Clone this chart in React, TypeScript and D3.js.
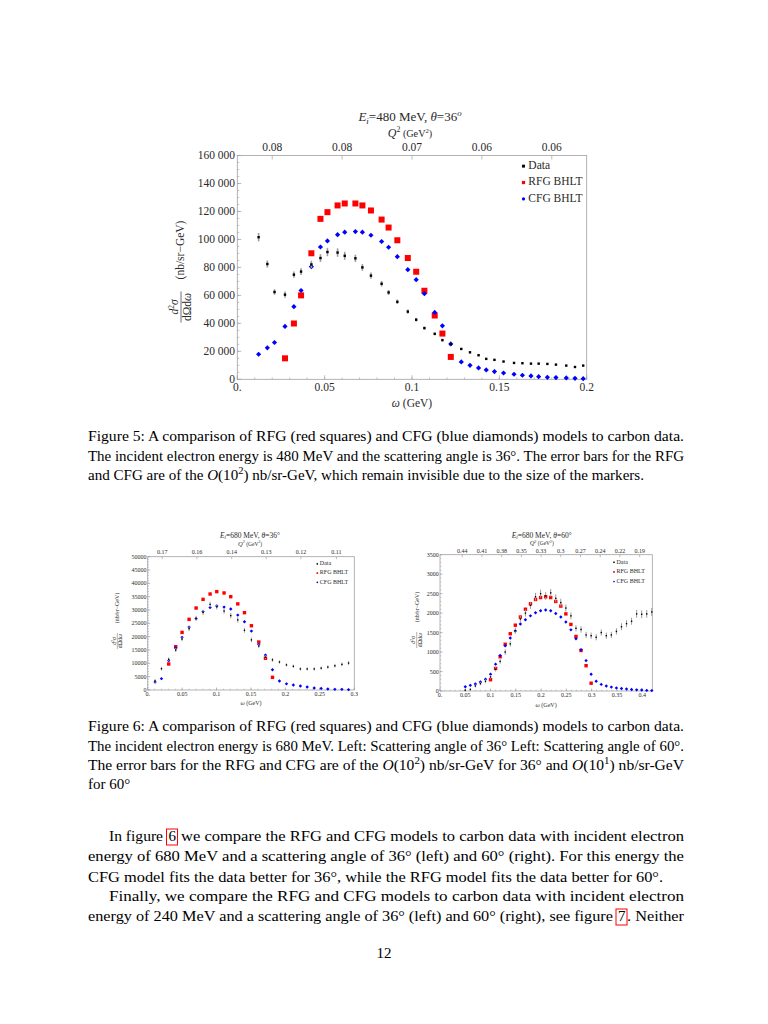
import * as d3 from "d3";

const SERIF = "'Liberation Serif', 'Times New Roman', serif";

// ---- Figure 5: E = 480 MeV, theta = 36 ----
const omega480 = [0.0122, 0.0172, 0.0213, 0.0273, 0.0324, 0.0365, 0.0424, 0.0476, 0.0516, 0.0574, 0.0615, 0.0676, 0.0716, 0.0765, 0.0826, 0.0866, 0.0916, 0.0976, 0.1024, 0.1071, 0.113, 0.1174, 0.1222, 0.1282, 0.1332, 0.1381, 0.1425, 0.1472, 0.1524, 0.1584, 0.1632, 0.1681, 0.1725, 0.1775, 0.1824, 0.1883, 0.1933, 0.198];
const data480 = [101600, 82400, 62400, 60500, 74800, 77000, 82100, 86700, 91000, 90600, 88300, 86500, 80000, 74100, 68300, 62100, 55400, 48400, 42600, 36600, 32500, 28000, 25000, 21700, 19300, 17200, 14600, 13900, 12700, 11700, 11500, 11200, 11200, 11000, 10500, 9800, 8800, 9800];
const err480 = [3000, 2500, 2000, 2200, 2200, 2400, 2600, 2800, 3000, 3000, 2800, 2600, 2400, 2200, 2000, 1800, 1600, 1500, 1300, 1100, 1000, 900, 800, 700, 600, 600, 500, 500, 500, 400, 400, 400, 400, 400, 400, 400, 400, 400];
const rfg480 = [null, null, null, 15000, 39900, 60000, 90100, 114700, 119500, 124300, 125700, 125700, 124300, 120700, 114200, 108500, 99400, 86700, 76900, 63300, 45600, 32700, 16000, null, null, null, null, null, null, null, null, null, null, null, null, null, null, null];
const cfg480 = [17900, 22500, 26300, 37800, 51900, 63500, 80500, 94600, 98900, 103400, 105200, 105600, 105200, 103000, 98500, 94400, 87700, 78400, 71200, 61200, 47800, 38200, 25300, 12400, 10000, 8100, 6700, 5500, 4500, 3600, 2900, 2400, 1900, 1400, 1200, 950, 700, 480];
const xTicks480 = [0, 0.05, 0.1, 0.15, 0.2];
const yTicks480 = [0, 20000, 40000, 60000, 80000, 100000, 120000, 140000, 160000];
const q2Pos480 = [0.02, 0.06, 0.1, 0.14, 0.18];
const q2Labels480 = ["0.08", "0.08", "0.07", "0.06", "0.06"];

// ---- Figure 6 left: E = 680 MeV, theta = 36 ----
const omega36 = [0.0107, 0.02, 0.0305, 0.0407, 0.0499, 0.0601, 0.0703, 0.0804, 0.0906, 0.1003, 0.1109, 0.1206, 0.1308, 0.1405, 0.1506, 0.1613, 0.171, 0.1812, 0.1913, 0.2015, 0.2115, 0.2217, 0.2316, 0.2418, 0.2519, 0.2616, 0.2718, 0.282, 0.2917];
const data36 = [3400, 8000, 11500, 15000, 19100, 23000, 26900, 29100, 32100, 31200, 29600, 27900, 26300, 22400, 18800, 16500, 12300, 11300, 10500, 9400, 8900, 7900, 7900, 7900, 8200, 8600, 9100, 9600, 10100];
const err36 = [700, 700, 700, 800, 800, 900, 900, 1000, 1000, 1000, 1000, 1000, 1000, 900, 900, 800, 700, 700, 600, 600, 600, 600, 600, 600, 600, 600, 700, 700, 700];
const rfg36 = [null, null, 9750, 16250, 21600, 26500, 30750, 34000, 36000, 36900, 36400, 35000, 32300, 29000, 24100, 18000, 11900, 4750, null, null, null, null, null, null, null, null, null, null, null];
const cfg36 = [3000, 4250, 11000, 15750, 19750, 23600, 26750, 29400, 30900, 31500, 31100, 30400, 28100, 25600, 22100, 17100, 13100, 7600, 3400, 2300, 1900, 1500, 1100, 750, 600, 400, 250, 250, 130];
const xTicks36 = [0, 0.05, 0.1, 0.15, 0.2, 0.25, 0.3];
const yTicks36 = [0, 5000, 10000, 15000, 20000, 25000, 30000, 35000, 40000, 45000, 50000];
const q2Pos36 = [0.021, 0.0715, 0.122, 0.172, 0.2225, 0.274];
const q2Labels36 = ["0.17", "0.16", "0.14", "0.13", "0.12", "0.11"];

// ---- Figure 6 right: E = 680 MeV, theta = 60 ----
const omega60 = [0.05, 0.06, 0.07, 0.08, 0.09, 0.1, 0.11, 0.119, 0.129, 0.139, 0.149, 0.159, 0.169, 0.179, 0.189, 0.199, 0.209, 0.219, 0.229, 0.239, 0.249, 0.259, 0.269, 0.279, 0.289, 0.299, 0.309, 0.319, 0.329, 0.339, 0.349, 0.359, 0.369, 0.379, 0.389, 0.399, 0.409, 0.419];
const data60 = [20, 40, 130, 190, 250, 360, 560, 760, 1000, 1210, 1550, 1850, 2000, 2200, 2420, 2500, 2440, 2520, 2380, 2270, 2130, 1930, 1610, 1580, 1440, 1420, 1380, 1500, 1420, 1440, 1530, 1650, 1730, 1790, 1980, 1970, 1980, 2030];
const err60 = [30, 30, 40, 40, 50, 50, 60, 60, 70, 70, 80, 80, 90, 90, 100, 100, 100, 100, 100, 100, 90, 90, 80, 80, 80, 80, 80, 80, 80, 80, 80, 90, 90, 90, 100, 100, 100, 100];
const rfg60 = [null, null, null, null, null, 290, 580, 880, 1200, 1470, 1690, 1900, 2100, 2240, 2350, 2400, 2420, 2400, 2300, 2180, 1980, 1710, 1400, 1040, 650, 200, null, null, null, null, null, null, null, null, null, null, null, null];
const cfg60 = [110, 145, 180, 230, 300, 430, 690, 910, 1160, 1360, 1540, 1720, 1830, 1930, 2010, 2060, 2080, 2060, 1990, 1900, 1770, 1570, 1340, 1060, 780, 430, 250, 170, 130, 100, 80, 65, 50, 40, 30, 25, 15, 10];
const xTicks60 = [0, 0.05, 0.1, 0.15, 0.2, 0.25, 0.3, 0.35, 0.4];
const yTicks60 = [0, 500, 1000, 1500, 2000, 2500, 3000, 3500];
const q2Pos60 = [0.044, 0.083, 0.122, 0.161, 0.2, 0.239, 0.278, 0.317, 0.356, 0.395];
const q2Labels60 = ["0.44", "0.41", "0.38", "0.35", "0.33", "0.3", "0.27", "0.24", "0.22", "0.19"];

const legendNames = ["Data", "RFG BHLT", "CFG BHLT"];

type Num = number | null;

interface Spec {
  box: [number, number, number, number];
  xMax: number;
  yMax: number;
  xTicks: number[];
  xMinorStep: number;
  yTicks: number[];
  yMinorStep: number;
  yFmt: (v: number) => string;
  q2Pos: number[];
  q2Labels: string[];
  omega: number[];
  data: number[];
  err: number[];
  rfg: Num[];
  cfg: Num[];
  energy: string;
  angle: string;
  supO: boolean;
  fs: number;
  titleFs: number;
  q2Fs: number;
  titleX: number;
  titleY: number;
  q2Y: number;
  topLabY: number;
  xLabY: number;
  omegaY: number;
  legX: number;
  legY: number;
  legDy: number;
  yLabX: number;
  fracCy: number;
  parenCy: number;
  sq: number;
  dia: number;
  dot: number;
  barW: number;
  major: number;
  minor: number;
}

const fmtSpaced = (v: number) => (v === 0 ? "0" : d3.format(",")(v).replace(/,/g, " "));
const fmtPlain = (v: number) => String(v);
const fmtX = (v: number) => (v === 0 ? "0." : String(+v.toFixed(2)));

function Panel({ s }: { s: Spec }) {
  const [l, t, r, b] = s.box;
  const x = d3.scaleLinear().domain([0, s.xMax]).range([l, r]);
  const y = d3.scaleLinear().domain([0, s.yMax]).range([b, t]);
  const xMinor = d3.range(0, s.xMax + 1e-9, s.xMinorStep);
  const yMinor = d3.range(0, s.yMax + 1e-9, s.yMinorStep);
  const frame = "#a0a0a0";
  const ink = "#2a2a2a";
  const sub = s.titleFs * 0.68;
  const qs = s.q2Fs * 0.85;
  return (
    <g fontFamily={SERIF} fill={ink}>
      <rect x={l} y={t} width={r - l} height={b - t} fill="none" stroke={frame} strokeWidth={0.8} />
      {xMinor.map((v, i) => (
        <line key={"xm" + i} x1={x(v)} x2={x(v)} y1={b} y2={b - s.minor} stroke={frame} strokeWidth={0.6} />
      ))}
      {s.xTicks.map((v, i) => (
        <line key={"xM" + i} x1={x(v)} x2={x(v)} y1={b} y2={b - s.major} stroke={frame} strokeWidth={0.7} />
      ))}
      {yMinor.map((v, i) => (
        <line key={"ym" + i} x1={l} x2={l + s.minor} y1={y(v)} y2={y(v)} stroke={frame} strokeWidth={0.6} />
      ))}
      {s.yTicks.map((v, i) => (
        <line key={"yM" + i} x1={l} x2={l + s.major} y1={y(v)} y2={y(v)} stroke={frame} strokeWidth={0.7} />
      ))}
      {s.q2Pos.map((v, i) => (
        <line key={"q" + i} x1={x(v)} x2={x(v)} y1={t} y2={t + s.major} stroke={frame} strokeWidth={0.7} />
      ))}
      {s.xTicks.map((v, i) => (
        <text key={"xl" + i} x={x(v)} y={s.xLabY} fontSize={s.fs} textAnchor="middle">
          {fmtX(v)}
        </text>
      ))}
      {s.yTicks.map((v, i) => (
        <text key={"yl" + i} x={l - s.fs * 0.2} y={y(v) + s.fs * 0.33} fontSize={s.fs} textAnchor="end">
          {s.yFmt(v)}
        </text>
      ))}
      {s.q2Pos.map((v, i) => (
        <text key={"ql" + i} x={x(v)} y={s.topLabY} fontSize={s.fs} textAnchor="middle">
          {s.q2Labels[i]}
        </text>
      ))}
      {/* title */}
      <text x={s.titleX} y={s.titleY} fontSize={s.titleFs} textAnchor="middle">
        <tspan fontStyle="italic">E</tspan>
        <tspan fontStyle="italic" fontSize={sub} dy={s.titleFs * 0.22}>i</tspan>
        <tspan dy={-s.titleFs * 0.22}>{"=" + s.energy + " MeV, "}</tspan>
        <tspan fontStyle="italic">θ</tspan>
        <tspan>{"=" + s.angle}</tspan>
        {s.supO ? (
          <tspan fontStyle="italic" fontSize={sub} dy={-s.titleFs * 0.38}>o</tspan>
        ) : (
          <tspan>°</tspan>
        )}
      </text>
      <text x={s.titleX} y={s.q2Y} fontSize={s.q2Fs} textAnchor="middle">
        <tspan fontStyle="italic">Q</tspan>
        <tspan fontSize={s.q2Fs * 0.65} dy={-s.q2Fs * 0.38}>2</tspan>
        <tspan fontSize={qs} dy={s.q2Fs * 0.38}>{" (GeV"}</tspan>
        <tspan fontSize={qs * 0.65} dy={-qs * 0.38}>2</tspan>
        <tspan fontSize={qs} dy={qs * 0.38}>)</tspan>
      </text>
      {/* x label */}
      <text x={(l + r) / 2} y={s.omegaY} fontSize={s.fs} textAnchor="middle">
        <tspan fontStyle="italic">ω</tspan>
        <tspan>{" (GeV)"}</tspan>
      </text>
      {/* y label */}
      <g transform={`translate(${s.yLabX},${s.fracCy}) rotate(-90)`} fontSize={s.fs}>
        <text x={0} y={-s.fs * 0.22} textAnchor="middle">
          <tspan fontStyle="italic">d</tspan>
          <tspan fontSize={s.fs * 0.65} dy={-s.fs * 0.38}>2</tspan>
          <tspan fontStyle="italic" dy={s.fs * 0.38}>σ</tspan>
        </text>
        <line x1={-s.fs * 1.35} x2={s.fs * 1.35} y1={0} y2={0} stroke={ink} strokeWidth={s.fs * 0.06} />
        <text x={0} y={s.fs * 0.85} textAnchor="middle">
          <tspan>dΩd</tspan>
          <tspan fontStyle="italic">ω</tspan>
        </text>
      </g>
      <g transform={`translate(${s.yLabX},${s.parenCy}) rotate(-90)`} fontSize={s.fs}>
        <text x={0} y={s.fs * 0.3} textAnchor="middle">
          (nb/sr−GeV)
        </text>
      </g>
      {/* models */}
      {s.rfg.map((v, i) =>
        v === null ? null : (
          <rect
            key={"r" + i}
            x={x(s.omega[i]) - s.sq / 2}
            y={y(v) - s.sq / 2}
            width={s.sq}
            height={s.sq}
            fill="#ff0000"
          />
        )
      )}
      {s.cfg.map((v, i) =>
        v === null ? null : (
          <path
            key={"c" + i}
            d={`M${x(s.omega[i])},${y(v) - s.dia / 2}l${s.dia / 2},${s.dia / 2}l${-s.dia / 2},${s.dia / 2}l${-s.dia / 2},${-s.dia / 2}z`}
            fill="#0000ff"
          />
        )
      )}
      {/* data with error bars */}
      {s.data.map((v, i) => (
        <g key={"d" + i}>
          <line
            x1={x(s.omega[i])}
            x2={x(s.omega[i])}
            y1={y(v - s.err[i])}
            y2={y(v + s.err[i])}
            stroke="#9c9c9c"
            strokeWidth={s.barW}
          />
          <rect x={x(s.omega[i]) - s.dot / 2} y={y(v) - s.dot / 2} width={s.dot} height={s.dot} fill="#000" />
        </g>
      ))}
      {/* legend */}
      {legendNames.map((name, i) => {
        const cy = s.legY + i * s.legDy;
        const m = s.fs * 0.28;
        return (
          <g key={"lg" + i}>
            {i === 0 && <rect x={s.legX - m * 0.45} y={cy + s.fs * 0.1 - m * 0.45} width={m * 0.9} height={m * 0.9} fill="#000" />}
            {i === 1 && <rect x={s.legX - m / 2} y={cy + s.fs * 0.1 - m / 2} width={m} height={m} fill="#ff0000" />}
            {i === 2 && <circle cx={s.legX} cy={cy + s.fs * 0.1} r={m * 0.5} fill="#0000ff" />}
            <text x={s.legX + s.fs * 0.42} y={cy + s.fs * 0.33} fontSize={s.fs}>
              {name}
            </text>
          </g>
        );
      })}
    </g>
  );
}

const spec480: Spec = {
  box: [237.3, 155.5, 586.7, 379.3],
  xMax: 0.2,
  yMax: 160000,
  xTicks: xTicks480,
  xMinorStep: 0.01,
  yTicks: yTicks480,
  yMinorStep: 5000,
  yFmt: fmtSpaced,
  q2Pos: q2Pos480,
  q2Labels: q2Labels480,
  omega: omega480,
  data: data480,
  err: err480,
  rfg: rfg480,
  cfg: cfg480,
  energy: "480",
  angle: "36",
  supO: true,
  fs: 11.5,
  titleFs: 13,
  q2Fs: 12,
  titleX: 410,
  titleY: 121,
  q2Y: 136.5,
  topLabY: 151,
  xLabY: 390.5,
  omegaY: 407,
  legX: 523.5,
  legY: 165,
  legDy: 16.4,
  yLabX: 181,
  fracCy: 307,
  parenCy: 250,
  sq: 6,
  dia: 5.2,
  dot: 2.4,
  barW: 1.6,
  major: 4,
  minor: 2,
};

const spec36: Spec = {
  box: [147.7, 556.7, 354.3, 690],
  xMax: 0.3,
  yMax: 50000,
  xTicks: xTicks36,
  xMinorStep: 0.01,
  yTicks: yTicks36,
  yMinorStep: 1000,
  yFmt: fmtPlain,
  q2Pos: q2Pos36,
  q2Labels: q2Labels36,
  omega: omega36,
  data: data36,
  err: err36,
  rfg: rfg36,
  cfg: cfg36,
  energy: "680",
  angle: "36",
  supO: false,
  fs: 6,
  titleFs: 7.5,
  q2Fs: 6.5,
  titleX: 250,
  titleY: 537.5,
  q2Y: 545.5,
  topLabY: 554.3,
  xLabY: 695.5,
  omegaY: 705,
  legX: 317.3,
  legY: 563.3,
  legDy: 9.2,
  yLabX: 117.3,
  fracCy: 641,
  parenCy: 608,
  sq: 3.4,
  dia: 3.4,
  dot: 1.4,
  barW: 1,
  major: 2.5,
  minor: 1.3,
};

const spec60: Spec = {
  ...spec36,
  box: [440, 554.7, 652.3, 691],
  xMax: 0.42,
  yMax: 3500,
  xTicks: xTicks60,
  yTicks: yTicks60,
  yMinorStep: 100,
  q2Pos: q2Pos60,
  q2Labels: q2Labels60,
  omega: omega60,
  data: data60,
  err: err60,
  rfg: rfg60,
  cfg: cfg60,
  angle: "60",
  titleX: 541.7,
  titleY: 537.5,
  q2Y: 545,
  topLabY: 552.5,
  xLabY: 697,
  omegaY: 707,
  legX: 614,
  legY: 561.7,
  legDy: 9.6,
  yLabX: 416.7,
  fracCy: 640,
  parenCy: 607,
};

const BODY = 15;
const SUP = BODY * 0.7;
const RISE = BODY * 0.4;

function Line({ x, y, w, children }: { x: number; y: number; w?: number; children: any }) {
  return (
    <text
      x={x}
      y={y}
      fontFamily={SERIF}
      fontSize={BODY}
      fill="#000"
      textLength={w}
      lengthAdjust={w ? "spacingAndGlyphs" : undefined}
    >
      {children}
    </text>
  );
}

export default function App() {
  const L = 88;
  const R = 684;
  const W = R - L;
  return (
    <svg
      width={768}
      height={1024}
      viewBox="0 0 768 1024"
      style={{ position: "absolute", left: 0, top: 0, background: "#fff" }}
    >
      <rect width={768} height={1024} fill="#fff" />
      <Panel s={spec480} />
      <Panel s={spec36} />
      <Panel s={spec60} />

      <Line x={L} y={441} w={W}>
        Figure 5:  A comparison of RFG (red squares) and CFG (blue diamonds) models to carbon data.
      </Line>
      <Line x={L} y={461} w={W}>
        The incident electron energy is 480 MeV and the scattering angle is 36°.  The error bars for the RFG
      </Line>
      <Line x={L} y={479.5} w={556}>
        and CFG are of the <tspan fontStyle="italic">O</tspan>(10<tspan fontSize={SUP} dy={-RISE}>2</tspan>
        <tspan dy={RISE}>) nb/sr-GeV, which remain invisible due to the size of the markers.</tspan>
      </Line>

      <Line x={L} y={731} w={W}>
        Figure 6:  A comparison of RFG (red squares) and CFG (blue diamonds) models to carbon data.
      </Line>
      <Line x={L} y={750.5} w={W}>
        The incident electron energy is 680 MeV. Left: Scattering angle of 36° Left: Scattering angle of 60°.
      </Line>
      <Line x={L} y={769.5} w={W}>
        The error bars for the RFG and CFG are of the <tspan fontStyle="italic">O</tspan>(10<tspan fontSize={SUP} dy={-RISE}>2</tspan>
        <tspan dy={RISE}>) nb/sr-GeV for 36° and </tspan>
        <tspan fontStyle="italic">O</tspan>(10<tspan fontSize={SUP} dy={-RISE}>1</tspan>
        <tspan dy={RISE}>) nb/sr-GeV</tspan>
      </Line>
      <Line x={L} y={788.5}>for 60°</Line>

      <Line x={109} y={841} w={54}>
        In figure
      </Line>
      <rect x={166.5} y={829} width={11} height={16} fill="none" stroke="#ff0000" strokeWidth={1} />
      <Line x={168.5} y={841}>6</Line>
      <Line x={181} y={841} w={R - 181}>
        we compare the RFG and CFG models to carbon data with incident electron
      </Line>
      <Line x={L} y={861} w={W}>
        energy of 680 MeV and a scattering angle of 36° (left) and 60° (right).  For this energy the
      </Line>
      <Line x={L} y={881.5} w={575}>
        CFG model fits the data better for 36°, while the RFG model fits the data better for 60°.
      </Line>
      <Line x={109} y={901} w={R - 109}>
        Finally, we compare the RFG and CFG models to carbon data with incident electron
      </Line>
      <Line x={L} y={921} w={525}>
        energy of 240 MeV and a scattering angle of 36° (left) and 60° (right), see figure
      </Line>
      <rect x={616} y={909} width={11} height={16} fill="none" stroke="#ff0000" strokeWidth={1} />
      <Line x={618} y={921}>7</Line>
      <Line x={627} y={921} w={R - 627}>
        . Neither
      </Line>
      <text x={384} y={958} fontFamily={SERIF} fontSize={BODY} textAnchor="middle">
        12
      </text>
    </svg>
  );
}
